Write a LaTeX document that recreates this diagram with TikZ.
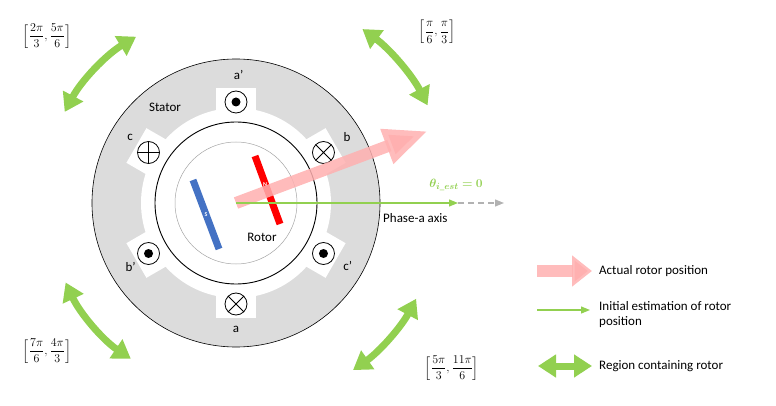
\documentclass[tikz,border=0pt]{standalone}
\usepackage{fontspec}
\setmainfont{Carlito}
\usepackage{amsmath, amssymb}
\usepackage{bm}
\usetikzlibrary{positioning,calc,arrows.meta}
\definecolor{lgreen}{HTML}{92D050}
\definecolor{apink}{HTML}{FFB0B0}
\definecolor{sblue}{HTML}{4472C4}
\definecolor{sgray}{HTML}{DCDCDC}
\begin{document}
\begin{tikzpicture}[
    x=1pt, y=-1pt,
    font=\fontsize{13}{15}\selectfont,
    lbl/.style={inner sep=1pt, anchor=center},
    region/.style={draw=lgreen, line width=7pt,
      {Triangle[width=22pt,length=18pt]}-{Triangle[width=22pt,length=18pt]}},
    actual/.style={draw=apink, draw opacity=0.85, line width=12pt,
      -{Triangle[width=34pt,length=44pt]}},
    estim/.style={draw=lgreen, line width=1.2pt, -{Triangle[width=7pt,length=9pt]}},
    coil/.style={draw=black, fill=white, line width=0.8pt, minimum size=22pt,
      circle, inner sep=0pt}]
    \useasboundingbox (0,0) rectangle (776,406);
    \coordinate (C) at (236,203);

    % stator
    \filldraw[fill=sgray, draw=black, line width=0.6pt] (C) circle (144);
    \fill[white] (C) circle (95);
    \foreach \a in {90,30,150,210,330,270} {
      \fill[white, shift={(C)}, rotate=-\a] (85,-20) rectangle (115,20);
    }
    \draw[black, line width=0.9pt] (C) circle (81);
    \draw[gray!70, line width=0.5pt] (C) circle (61);

    % coils
    \foreach \a/\n in {90/ap, 210/bp, 330/cp} {
      \node[coil] (\n) at ($(C)+(-\a:101)$) {};
      \fill (\n) circle (4.5);
    }
    \foreach \a/\n in {30/b, 270/a} {
      \node[coil] (\n) at ($(C)+(-\a:101)$) {};
      \draw[line width=0.8pt] ($(\n)+(-45:11)$) -- ($(\n)+(135:11)$)
        ($(\n)+(45:11)$) -- ($(\n)+(-135:11)$);
    }
    \node[coil] (c) at ($(C)+(-150:101)$) {};
    \draw[line width=0.8pt] (c.north) -- (c.south) (c.west) -- (c.east);

    \node[lbl] (La)  at (236,329) {a};
    \node[lbl] (Lap) at (237,75) {a\rlap{\textquoteright}};
    \node[lbl] (Lb)  at (347,137) {b};
    \node[lbl] (Lc)  at (130,137) {c};
    \node[lbl] (Lbp) at (129,267) {b\rlap{\textquoteright}};
    \node[lbl] (Lcp) at (346,266) {c\rlap{\textquoteright}};
    \node[lbl] (stator) at (165,107) {Stator};
    \node[lbl] (rotor) at (262,237) {Rotor};

    % rotor magnets
    \draw[red, line width=7pt] (255,156) -- (280,224);
    \draw[sblue, line width=7pt] (193,180) -- (219,249);
    \node[lbl, white, font=\fontsize{6}{6}\selectfont\bfseries] (N) at (265,185) {N};
    \node[lbl, white, font=\fontsize{6}{6}\selectfont\bfseries] (S) at (206,215) {S};

    % axes
    \coordinate (tip) at (428,131);
    \draw[actual] (C) -- (tip);
    \coordinate (est) at (458,203);
    \coordinate (ax) at (504,203);
    \draw[gray!60, line width=1.2pt, dash pattern=on 6pt off 4pt,
      -{Triangle[width=7pt,length=9pt]}] (est) -- (ax);
    \draw[estim] (C) -- (est);
    \node[lbl, text=lgreen] (theta) at (456,185) {$\boldsymbol{\theta_{i\_est}=0}$};
    \node[lbl, anchor=west] (phase) at (382,218) {Phase-a axis};

    % regions
    \draw[region] ($(C)+(-121:194)$) arc[start angle=-121, end angle=-152, radius=194];
    \draw[region] ($(C)+(-54:215)$) arc[start angle=-54, end angle=-27, radius=215];
    \draw[region] ($(C)+(-205:188)$) arc[start angle=-205, end angle=-236, radius=188];
    \draw[region] ($(C)+(55:204)$) arc[start angle=55, end angle=28, radius=204];
    \node[lbl] (r1) at (47,36) {$\left[\dfrac{2\pi}{3},\dfrac{5\pi}{6}\right]$};
    \node[lbl] (r2) at (437,32) {$\left[\dfrac{\pi}{6},\dfrac{\pi}{3}\right]$};
    \node[lbl] (r3) at (47,351) {$\left[\dfrac{7\pi}{6},\dfrac{4\pi}{3}\right]$};
    \node[lbl] (r4) at (452,368) {$\left[\dfrac{5\pi}{3},\dfrac{11\pi}{6}\right]$};

    % legend
    \coordinate (l1a) at (537,271);
    \coordinate (l1b) at (592,271);
    \draw[actual, -{Triangle[width=30pt,length=20pt]}] (l1a) -- (l1b);
    \node[lbl, anchor=west] (t1) at (598,271) {Actual rotor position};
    \coordinate (l2a) at (537,310);
    \coordinate (l2b) at (590,310);
    \draw[estim] (l2a) -- (l2b);
    \node[lbl, anchor=north west, align=left] (t2) at (598,300)
      {Initial estimation of rotor\\position};
    \coordinate (l3a) at (538,366);
    \coordinate (l3b) at (592,366);
    \draw[region] (l3a) -- (l3b);
    \node[lbl, anchor=west] (t3) at (598,366) {Region containing rotor};
\end{tikzpicture}
\end{document}
